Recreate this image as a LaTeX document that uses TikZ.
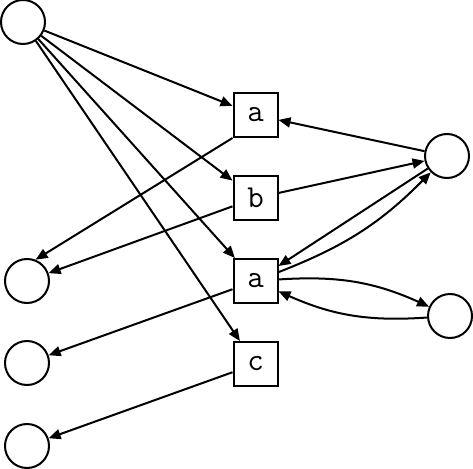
\documentclass[tikz,border=0pt]{standalone}
\usepackage{fontspec}
\usepackage{tikz}
\usetikzlibrary{shapes.geometric, arrows.meta}

\begin{document}
\begin{tikzpicture}[x=1pt, y=-1pt, node distance=83pt]
    % Define the style for the nodes
    \tikzstyle{state} = [circle, draw, line width=2pt, minimum size=44pt, inner sep=0pt]
    \tikzstyle{letterbox} = [rectangle, draw, line width=2pt, minimum size=44pt, inner sep=0pt, font=\fontsize{32}{34}\selectfont\ttfamily]
    \tikzstyle{line} = [draw, line width=2pt, -{Triangle[length=12pt, width=10pt]}]

    \useasboundingbox (0,0) rectangle (473,468);

    % Place the nodes
    \node [state] (source) at (23,22) {};
    \node [letterbox] (boxa) at (255.5,115) {a};
    \node [letterbox, below of=boxa] (boxb) {b};
    \node [letterbox, below of=boxb] (boxaa) {a};
    \node [letterbox, below of=boxaa] (boxc) {c};
    \node [state] (right1) at (447,156) {};
    \node [state] (right2) at (450,316) {};
    \node [state] (left1) at (27,281) {};
    \node [state] (left2) at (27,363) {};
    \node [state] (left3) at (27,446) {};

    % Connect the nodes with paths
    \path [line] (source) -- (boxa);
    \path [line] (source) -- (boxb);
    \path [line] (source) -- (boxaa);
    \path [line] (source) -- (boxc);
    \path [line] (boxa.south west) -- (left1.68);
    \path [line] (boxb) -- (left1);
    \path [line] (boxaa) -- (left2);
    \path [line] (boxc) -- (left3);
    \path [line] (right1) -- (boxa);
    \path [line] (boxb) -- (right1);
    \path [line] (right1) -- (boxaa);
    \path [line] (boxaa) to[bend right=12] (right1);
    \path [line] (boxaa) to[bend left=14] (right2);
    \path [line] (right2) to[bend left=14] (boxaa);
\end{tikzpicture}
\end{document}
